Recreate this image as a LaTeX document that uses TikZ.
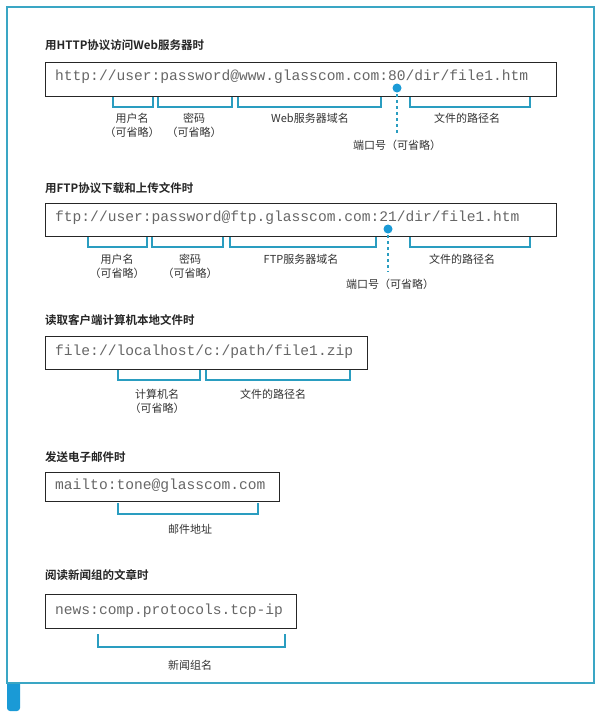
\documentclass[tikz,border=0pt]{standalone}
\usepackage{fontspec}
\setmainfont{Liberation Sans}
\newfontfamily\cjk{Noto Sans CJK SC}
\newfontfamily\cjkb{Noto Sans CJK SC Bold}
\newfontfamily\mono{Liberation Mono}
\definecolor{frame}{HTML}{3AA6C4}
\definecolor{brk}{HTML}{2A9DC0}
\definecolor{dotc}{HTML}{1A9AD6}
\tikzset{
 ttl/.style={anchor=west,font=\cjkb\fontsize{11.5}{13}\selectfont,text=black!85,inner sep=0},
 urlbox/.style={draw=black!85,line width=1pt,anchor=north west,inner sep=0},
 url/.style={anchor=west,font=\mono\fontsize{14.6}{16}\selectfont,text=black!60,inner sep=0},
 lbl/.style={font=\cjk\fontsize{11}{13}\selectfont,text=black!80,inner sep=0},
 brkline/.style={draw=brk,line width=1.6pt},
}
\newcommand{\brkt}[4]{\draw[brkline] (#1,#3) -- (#1,#4) -- (#2,#4) -- (#2,#3);}
\begin{document}
\begin{tikzpicture}[x=1pt,y=-1pt]
\useasboundingbox (0,0) rectangle (600,715);
\fill[white] (0,0) rectangle (600,715);
\fill[dotc, rounded corners=3pt] (7,676) rectangle (20,711);
\draw[frame,line width=1.4pt,fill=white] (7,7) rectangle (594,683);
% section 1
\node[ttl] (t1) at (45,45) {用HTTP协议访问Web服务器时};
\draw[urlbox] (45,62) rectangle (556,96);
\node[url] (u1) at (55,77) {http://user:password@www.glasscom.com:80/dir/file1.htm};
\brkt{113}{153}{97}{107}
\brkt{158}{232}{97}{107}
\brkt{238}{381}{97}{107}
\brkt{410}{530}{97}{107}
\draw[brk,line width=1.3pt,dashed,dash pattern=on 3pt off 3pt] (397,88) -- (397,133);
\fill[dotc] (397,88) circle (4.5);
\node[lbl] (l11) at (132,118) {用户名};
\node[lbl] (l12) at (132,132) {（可省略）};
\node[lbl] (l13) at (194,118) {密码};
\node[lbl] (l14) at (194,132) {（可省略）};
\node[lbl] (l15) at (310,118) {Web服务器域名};
\node[lbl] (l16) at (467,118) {文件的路径名};
\node[lbl] (l17) at (397,145) {端口号（可省略）};
% section 2
\node[ttl] (t2) at (45,188) {用FTP协议下载和上传文件时};
\draw[urlbox] (45,203) rectangle (556,236);
\node[url] (u2) at (55,218) {ftp://user:password@ftp.glasscom.com:21/dir/file1.htm};
\brkt{88}{147}{237}{247}
\brkt{152}{223}{237}{247}
\brkt{230}{376}{237}{247}
\brkt{410}{530}{237}{247}
\draw[brk,line width=1.3pt,dashed,dash pattern=on 3pt off 3pt] (388,229) -- (388,272);
\fill[dotc] (388,229) circle (4.5);
\node[lbl] (l21) at (117,259) {用户名};
\node[lbl] (l22) at (117,273) {（可省略）};
\node[lbl] (l23) at (190,259) {密码};
\node[lbl] (l24) at (190,273) {（可省略）};
\node[lbl] (l25) at (301,259) {FTP服务器域名};
\node[lbl] (l26) at (462,259) {文件的路径名};
\node[lbl] (l27) at (390,284) {端口号（可省略）};
% section 3
\node[ttl] (t3) at (45,320) {读取客户端计算机本地文件时};
\draw[urlbox] (45,336) rectangle (367,369);
\node[url] (u3) at (55,352) {file://localhost/c:/path/file1.zip};
\brkt{118}{200}{370}{380}
\brkt{206}{350}{370}{380}
\node[lbl] (l31) at (157,394) {计算机名};
\node[lbl] (l32) at (157,408) {（可省略）};
\node[lbl] (l33) at (273,394) {文件的路径名};
% section 4
\node[ttl] (t4) at (45,457) {发送电子邮件时};
\draw[urlbox] (45,472) rectangle (279,501);
\node[url] (u4) at (55,486) {mailto:tone@glasscom.com};
\brkt{118}{258}{503}{514}
\node[lbl] (l41) at (190,529) {邮件地址};
% section 5
\node[ttl] (t5) at (45,575) {阅读新闻组的文章时};
\draw[urlbox] (45,594) rectangle (296,628);
\node[url] (u5) at (55,611) {news:comp.protocols.tcp-ip};
\brkt{98}{285}{634}{647}
\node[lbl] (l51) at (190,665) {新闻组名};
\end{tikzpicture}
\end{document}
